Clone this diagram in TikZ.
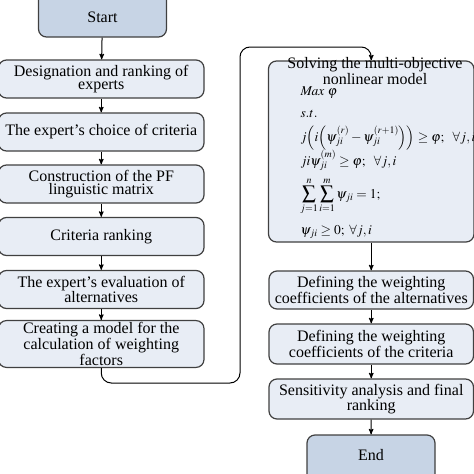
\documentclass[tikz,border=0pt]{standalone}
\usepackage{amsmath}
\usepackage{mathptmx}
\usepackage{fontspec}
\setmainfont{Liberation Serif}
\usetikzlibrary{arrows,positioning,shapes}
\definecolor{linegray}{rgb}{0.25, 0.25, 0.25}
\definecolor{boxfill}{rgb}{0.91, 0.93, 0.96}
\definecolor{termfill}{rgb}{0.78, 0.83, 0.90}
\newcommand{\conelhs}{j\Bigl(i\Bigl(\psi_{ji}^{(r)}-\psi_{ji}^{(r+1)}\Bigr)\Bigr)\geq\varphi;\ \ \forall j,i}
\tikzstyle{process}=[rectangle, rounded corners=8pt, draw=linegray, fill=boxfill, line width=1.2pt, minimum width=205.5pt, minimum height=38pt, inner sep=2pt, align=center, font=\fontsize{16}{12.5}\selectfont]
\tikzstyle{terminal}=[process, fill=termfill, minimum width=128pt, minimum height=0pt, anchor=base]
\tikzstyle{mathline}=[anchor=base west, inner sep=0pt, font=\fontsize{\mathsize}{16}\selectfont]
\begin{document}
\begin{tikzpicture}[x=1pt, y=-1pt, ->, >=stealth', line width=1pt]
		% math set so that the longest line is 168pt wide
		\setbox0=\hbox{\fontsize{14}{16}\selectfont$\conelhs$}
		\pgfmathsetmacro{\mathsize}{14*168/\the\wd0}
		\useasboundingbox (0,0) rectangle (474,474);
		
		\node[terminal, text height=28pt, text depth=13pt] at (102.5, 22) (start) {Start};
		
		\node[process] at (101.25, 79) (desig) {Designation and ranking of\\experts};
		\node[process] at (101.25, 132) (choice) {The expert's choice of criteria};
		\node[process] at (101.25, 184) (constr) {Construction of the PF\\linguistic matrix};
		\node[process] at (101.25, 236.5) (rank) {Criteria ranking};
		\node[process] at (101.25, 289.5) (evalalt) {The expert's evaluation of\\alternatives};
		\node[process, minimum height=42pt] at (101.25, 344) (model) {Creating a model for the\\calculation of weighting\\factors};
		
		\node[process, minimum height=181pt] at (371.25, 151.5) (solve) {};
		\node[process, draw=none, fill=none, minimum size=0pt, inner sep=0pt, font=\fontsize{16}{11}\selectfont] at (375, 71) (solvetitle) {Solving the multi-objective\\nonlinear model};
		\node[mathline] at (300, 95) (maxphi) {$\mathit{Max}\ \varphi$};
		\node[mathline] at (300, 117) (st) {$s.t.$};
		\node[mathline] at (300, 141) (cone) {$\conelhs$};
		\node[mathline] at (300, 165) (ctwo) {$ji\psi_{ji}^{(m)}\geq\varphi;\ \ \forall j,i$};
		\node[mathline] at (300, 198) (csum) {$\displaystyle\sum_{j=1}^{n}\sum_{i=1}^{m}\psi_{ji}=1;$};
		\node[mathline] at (300, 234) (cpos) {$\psi_{ji}\geq 0;\ \forall j,i$};
		
		\node[process, minimum width=204.5pt] at (371.25, 290) (walt) {Defining the weighting\\coefficients of the alternatives};
		\node[process, minimum width=204.5pt, minimum height=40pt] at (371.25, 344) (wcrit) {Defining the weighting\\coefficients of the criteria};
		\node[process, minimum width=204.5pt, minimum height=40pt] at (371.25, 399) (sens) {Sensitivity analysis and final\\ranking};
		\node[terminal, text height=23pt, text depth=20pt] at (371, 460) (end) {End};
		
		\coordinate (loopa) at (240, 383);
		\coordinate (loopb) at (240, 47);
		
		\draw (start) -- (desig);
		\draw (desig) -- (choice);
		\draw (choice) -- (constr);
		\draw (constr) -- (rank);
		\draw (rank) -- (evalalt);
		\draw (evalalt) -- (model);
		\draw[rounded corners=10pt] (model.south) |- (loopa) -- (loopb) -| (solve.north);
		\draw (solve) -- (walt);
		\draw (walt) -- (wcrit);
		\draw (wcrit) -- (sens);
		\draw (sens) -- (end);
		
\end{tikzpicture}
\end{document}
